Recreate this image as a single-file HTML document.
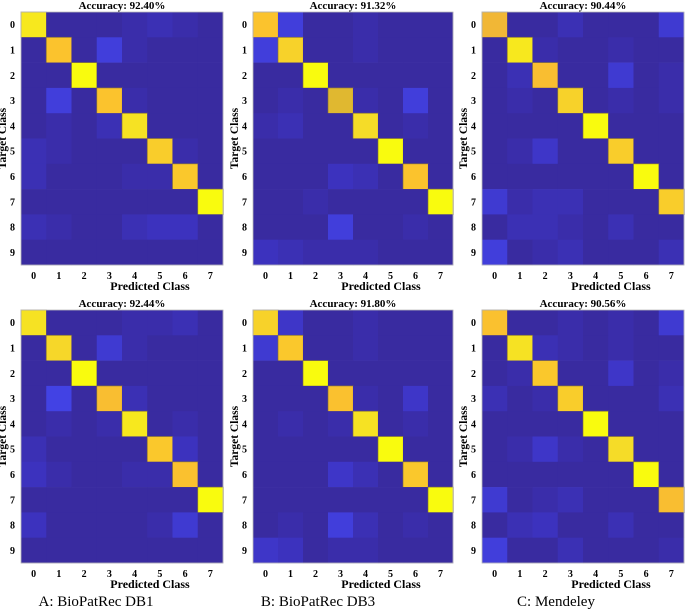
<!DOCTYPE html>
<html><head><meta charset="utf-8"><style>
html,body{margin:0;padding:0;background:#fff;}
svg{display:block;}
text{font-family:"Liberation Serif",serif;}
</style></head><body>
<svg id="fig" width="685" height="609" viewBox="0 0 685 609" xmlns="http://www.w3.org/2000/svg"></svg>
<script>
const predLabels = ["0","1","2","3","4","5","6","7"];
const targetLabels = ["0","1","2","3","4","5","6","7","8","9"];
const titles = ["Accuracy: 92.40%","Accuracy: 91.32%","Accuracy: 90.44%","Accuracy: 92.44%","Accuracy: 91.80%","Accuracy: 90.56%"];
const captions = ["A: BioPatRec DB1","B: BioPatRec DB3","C: Mendeley"];
const mA1 = [
[.97,.01,.01,.01,.02,.03,.02,.01],[.01,.90,.01,.07,.02,.01,.01,.01],[.01,.01,1,.01,.01,.01,.01,.01],
[.01,.07,.01,.90,.02,.01,.01,.01],[.01,.02,.01,.03,.96,.01,.01,.01],[.03,.02,.01,.01,.01,.92,.02,.01],
[.03,.01,.01,.01,.02,.02,.91,.01],[.01,.01,.01,.01,.01,.01,.01,1],[.03,.02,.01,.01,.03,.04,.04,.01],
[.01,.01,.01,.01,.01,.01,.01,.01]];
const mB1 = [
[.90,.07,.01,.01,.02,.01,.01,.01],[.07,.93,.01,.01,.02,.01,.01,.01],[.01,.01,1,.01,.01,.01,.01,.01],
[.01,.02,.01,.80,.02,.01,.07,.01],[.02,.03,.01,.01,.95,.01,.02,.01],[.01,.01,.01,.01,.01,1,.01,.01],
[.01,.01,.01,.04,.03,.01,.90,.01],[.01,.01,.02,.01,.01,.01,.01,1],[.01,.01,.01,.07,.01,.01,.02,.01],
[.04,.03,.02,.02,.02,.01,.01,.01]];
const mC1 = [
[.84,.01,.01,.03,.01,.01,.01,.06],[.01,.97,.02,.01,.01,.02,.01,.01],[.01,.03,.88,.01,.01,.06,.01,.02],
[.01,.02,.01,.93,.01,.02,.01,.02],[.01,.01,.01,.01,1,.01,.01,.01],[.01,.02,.05,.01,.01,.92,.01,.01],
[.01,.01,.01,.01,.01,.01,1,.01],[.06,.02,.03,.03,.01,.01,.01,.92],[.01,.03,.03,.02,.01,.03,.01,.01],
[.07,.01,.02,.03,.01,.01,.01,.03]];
const mA2 = [
[.96,.01,.01,.01,.02,.02,.03,.01],[.01,.94,.01,.06,.02,.01,.01,.01],[.01,.01,1,.01,.01,.01,.01,.01],
[.01,.08,.01,.88,.03,.01,.01,.01],[.01,.02,.01,.02,.97,.01,.02,.01],[.03,.01,.01,.01,.01,.91,.04,.01],
[.04,.02,.01,.01,.02,.02,.89,.01],[.01,.01,.01,.01,.01,.01,.01,1],[.04,.01,.01,.01,.01,.02,.06,.01],
[.01,.01,.01,.01,.01,.01,.01,.01]];
const mB2 = [
[.93,.05,.01,.01,.02,.01,.01,.01],[.06,.91,.01,.01,.02,.01,.01,.01],[.01,.01,1,.01,.01,.01,.01,.01],
[.01,.01,.01,.89,.02,.01,.05,.01],[.01,.02,.01,.02,.96,.01,.02,.01],[.01,.01,.01,.01,.01,1,.01,.01],
[.01,.01,.01,.05,.03,.01,.91,.01],[.01,.01,.01,.01,.01,.01,.01,1],[.01,.02,.01,.07,.03,.01,.02,.01],
[.05,.04,.01,.02,.02,.01,.01,.01]];
const mC2 = [
[.89,.01,.01,.02,.01,.02,.01,.06],[.01,.96,.03,.02,.01,.02,.01,.01],[.01,.02,.91,.01,.01,.05,.01,.02],
[.03,.01,.02,.92,.01,.01,.01,.03],[.01,.01,.01,.01,1,.01,.01,.01],[.01,.02,.05,.02,.01,.95,.01,.01],
[.01,.01,.01,.01,.01,.01,1,.01],[.06,.01,.02,.03,.01,.01,.01,.88],[.01,.03,.04,.01,.01,.03,.01,.01],
[.07,.01,.01,.03,.01,.01,.01,.02]];
const matrices = [mA1,mB1,mC1,mA2,mB2,mC2];

const NS="http://www.w3.org/2000/svg";
const svg=document.getElementById('fig');
function mk(tag,attrs,parent){const e=document.createElementNS(NS,tag);for(const k in attrs)e.setAttribute(k,attrs[k]);(parent||svg).appendChild(e);return e;}
const stops=[[0,[54,40,150]],[0.01,[57,43,160]],[0.04,[60,50,190]],[0.08,[66,66,228]],[0.4,[40,170,190]],[0.7,[200,185,80]],[0.78,[215,185,45]],[0.85,[245,183,55]],[0.9,[251,195,45]],[0.95,[245,220,40]],[1,[249,251,14]]];
function color(v){for(let i=1;i<stops.length;i++){if(v<=stops[i][0]){const a=stops[i-1],b=stops[i];const t=(v-a[0])/(b[0]-a[0]);const c=a[1].map((x,j)=>Math.round(x+(b[1][j]-x)*t));return `rgb(${c})`;}}return 'rgb(249,251,14)';}
const lefts=[21,253,482], rights=[223,453,684];
const tops=[12,310], bottoms=[265,563];
const captionX=[96,318,556];
matrices.forEach((m,idx)=>{
  const col=idx%3,row=Math.floor(idx/3);
  const x0=lefts[col],x1=rights[col],y0=tops[row],y1=bottoms[row];
  const cw=(x1-x0)/predLabels.length,ch=(y1-y0)/targetLabels.length;
  const xs=c=>x0+c*cw, ys=r=>y0+r*ch;
  const g=mk('g',{});
  
  
  m.forEach((rowv,r)=>rowv.forEach((v,c)=>{
    const rc=mk('rect',{x:xs(c),y:ys(r),width:cw+0.3,height:ch+0.3,fill:color(v)},g);
    if(v>0.5){rc.setAttribute('stroke','rgba(130,110,60,0.8)');rc.setAttribute('stroke-width','0.8');}
    
    
  }));
  mk('rect',{x:x0,y:y0,width:x1-x0,height:y1-y0,fill:'none',stroke:'#bbb','stroke-width':0.8},g);
  const t=mk('text',{x:(x0+x1)/2,y:y0-3,'text-anchor':'middle','font-size':11,'font-weight':'bold'},g);
  t.textContent=titles[idx];
  
  
  predLabels.forEach((l,c)=>{const e=mk('text',{x:xs(c)+cw/2,y:y1+14,'text-anchor':'middle','font-size':10,'font-weight':'bold'},g);e.textContent=l;
    
    });
  targetLabels.forEach((l,r)=>{const e=mk('text',{x:x0-6,y:ys(r)+ch/2+3.5,'text-anchor':'end','font-size':10,'font-weight':'bold'},g);e.textContent=l;
    
    });
  const xl=mk('text',{x:(x0+x1)/2+28,y:y1+25,'text-anchor':'middle','font-size':12,'font-weight':'bold'},g);
  xl.textContent='Predicted Class';
  
  
  const yx=x0-15,yy=(y0+y1)/2;
  const yl=mk('text',{x:yx,y:yy,'text-anchor':'middle','font-size':11.5,'font-weight':'bold',transform:`rotate(-90 ${yx} ${yy})`},g);
  yl.textContent='Target Class';
  
  
  if(row===1){const cp=mk('text',{x:captionX[col],y:606,'text-anchor':'middle','font-size':15});cp.textContent=captions[col];
    
    }
});
</script>
</body></html>
